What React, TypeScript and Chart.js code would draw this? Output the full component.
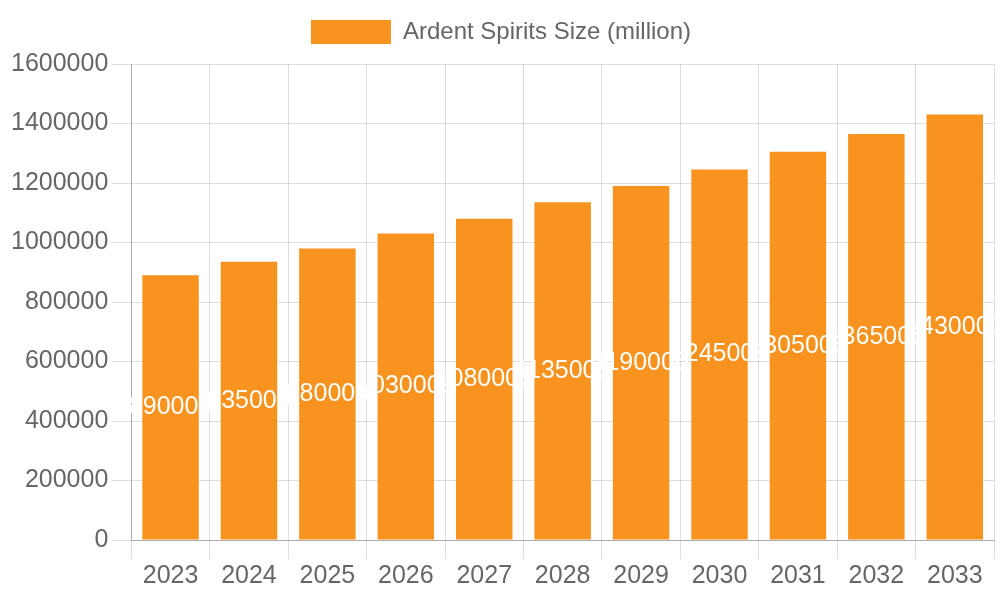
import { useEffect, useRef } from "react";
import { Chart, registerables, type Plugin } from "chart.js";

Chart.register(...registerables);

const YEARS = ["2023", "2024", "2025", "2026", "2027", "2028", "2029", "2030", "2031", "2032", "2033"];
const SIZES = [890000, 935000, 980000, 1030000, 1080000, 1135000, 1190000, 1245000, 1305000, 1365000, 1430000];
const SERIES_LABEL = "Ardent Spirits Size (million)";
const BAR_COLOR = "#f7931e";
const FONT = "'Liberation Sans', Arial, sans-serif";

// white value labels in the middle of each bar
const barValueLabels: Plugin<"bar"> = {
  id: "barValueLabels",
  afterDatasetsDraw(chart) {
    const { ctx } = chart;
    const meta = chart.getDatasetMeta(0);
    ctx.save();
    ctx.fillStyle = "#ffffff";
    ctx.font = `25px ${FONT}`;
    ctx.textAlign = "center";
    ctx.textBaseline = "middle";
    meta.data.forEach((bar, i) => {
      const { x, y, base } = bar.getProps(["x", "y", "base"], true) as any;
      ctx.fillText(String(SIZES[i]), x, (y + base) / 2);
    });
    ctx.restore();
  },
};

// a bit of extra room under the legend
const legendGap: Plugin = {
  id: "legendGap",
  beforeInit(chart: any) {
    const legend = chart.legend;
    if (!legend) return;
    const fit = legend.fit;
    legend.fit = function () {
      fit.call(this);
      this.height += 10;
    };
  },
};

export default function App() {
  const canvasRef = useRef<HTMLCanvasElement>(null);

  useEffect(() => {
    document.body.style.margin = "0";
    if (!canvasRef.current) return;
    const chart = new Chart(canvasRef.current, {
      type: "bar",
      data: {
        labels: YEARS,
        datasets: [
          {
            label: SERIES_LABEL,
            data: SIZES,
            backgroundColor: BAR_COLOR,
          },
        ],
      },
      options: {
        responsive: true,
        maintainAspectRatio: false,
        animation: false,
        layout: { padding: { left: 8, right: 6, top: 0, bottom: 7 } },
        plugins: {
          legend: {
            labels: {
              color: "#666",
              font: { size: 24, family: FONT },
              boxWidth: 80,
              boxHeight: 24,
              padding: 20,
            },
          },
          tooltip: { enabled: false },
        },
        scales: {
          x: {
            grid: { color: "rgba(0,0,0,0.13)", tickLength: 19 },
            border: { color: "#aaa" },
            ticks: { color: "#666", font: { size: 25, family: FONT }, padding: 2 },
          },
          y: {
            min: 0,
            max: 1600000,
            ticks: {
              stepSize: 200000,
              color: "#666",
              font: { size: 25, family: FONT },
              padding: 3,
              callback: (v) => String(v),
            },
            grid: { color: "rgba(0,0,0,0.13)", tickLength: 20 },
            border: { color: "#aaa" },
          },
        },
      },
      plugins: [barValueLabels, legendGap],
    });
    return () => chart.destroy();
  }, []);

  return (
    <div style={{ width: 1000, height: 600, position: "relative" }}>
      <canvas ref={canvasRef}></canvas>
    </div>
  );
}
